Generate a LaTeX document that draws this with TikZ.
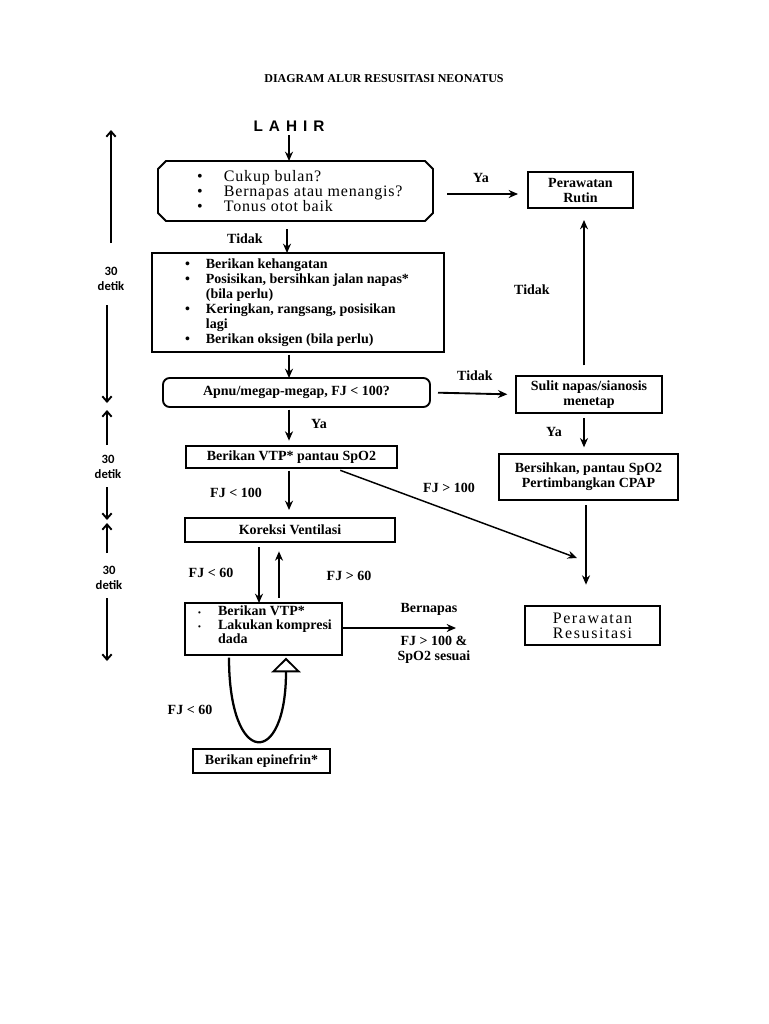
\documentclass[tikz,border=0pt]{standalone}
\usepackage{fontspec}
\setmainfont{Liberation Serif}
\newfontfamily\sansbf{Liberation Sans}
\newfontfamily\calfont{Carlito}
\newfontfamily\spacedA[LetterSpace=5]{Liberation Serif}
\newfontfamily\spacedB[LetterSpace=10]{Liberation Serif}
\usetikzlibrary{arrows.meta}
\begin{document}
\begin{tikzpicture}[x=0.75pt,y=-0.75pt,
  every node/.style={inner sep=0pt, outer sep=0pt},
  txt/.style={font=\fontsize{10.5}{11.25}\selectfont\bfseries},
  box/.style={draw, line width=1.4pt, align=center, txt},
  sz/.style 2 args={minimum width={#1*0.75pt}, minimum height={#2*0.75pt}},
  arr/.style={line width=1.4pt, -{Stealth[length=7pt,width=6pt]}},
  tarr/.style={line width=1.4pt, -{Straight Barb[length=4pt,width=7pt]}},
  det/.style={font=\calfont\fontsize{9.5}{11}\selectfont\bfseries, align=center}]
\useasboundingbox (0,0) rectangle (768,1024);
\fill[white] (0,0) rectangle (768,1024);

% title
\node[font=\fontsize{9}{11}\selectfont\bfseries] (title) at (384,79) {DIAGRAM ALUR RESUSITASI NEONATUS};
\node[font=\sansbf\fontsize{11.5}{13}\selectfont\bfseries] (lahir) at (289,126) {L\hspace{4.5pt}A\hspace{4.5pt}H\hspace{4.5pt}I\hspace{4.5pt}R};

% box 1 (octagon)
\node[sz={275}{60}] (q1) at (295.5,191) {};
\draw[line width=1.4pt] ([xshift=6pt]q1.north west) -- ([xshift=-6pt]q1.north east) -- ([yshift=-6pt]q1.north east) -- ([yshift=6pt]q1.south east) -- ([xshift=-6pt]q1.south east) -- ([xshift=6pt]q1.south west) -- ([yshift=6pt]q1.south west) -- ([yshift=-6pt]q1.north west) -- cycle;
\node[anchor=west, font=\spacedA\fontsize{12}{10.5}\selectfont] (q1t) at (197,193) {\begin{tabular}{@{}l@{\hspace{16pt}}l@{}}\textbullet & Cukup bulan?\\ \textbullet & Bernapas atau menangis?\\ \textbullet & Tonus otot baik\end{tabular}};

\node[box, sz={105}{36}] (rutin) at (580.5,190) {Perawatan\\Rutin};

% box 2
\node[box, sz={292}{99}] (b2) at (298,302.5) {};
\node[anchor=west, txt] (b2t) at (185,302.5) {\begin{tabular}{@{}l@{\hspace{12pt}}l@{}}\textbullet & Berikan kehangatan\\ \textbullet & Posisikan, bersihkan jalan napas*\\ & (bila perlu)\\ \textbullet & Keringkan, rangsang, posisikan\\ & lagi\\ \textbullet & Berikan oksigen (bila perlu)\end{tabular}};

\node[box, rounded corners=5pt, sz={267}{29}] (q3) at (296.5,392.5) {Apnu/megap-megap, FJ < 100?};
\node[box, sz={146}{37}] (sulit) at (589,394.5) {Sulit napas/sianosis\\menetap};
\node[box, sz={211}{22}] (vtp) at (291.5,457) {Berikan VTP* pantau SpO2};
\node[box, sz={179}{46}] (bersih) at (588.5,477) {Bersihkan, pantau SpO2\\Pertimbangkan CPAP};
\node[box, sz={210}{24}] (kor) at (290,530) {Koreksi Ventilasi};
\node[box, sz={135}{39}, font=\spacedB\fontsize{12}{11.5}\selectfont] (resus) at (592.5,625.5) {Perawatan\\Resusitasi};
\node[box, sz={157}{52}] (vk) at (263.5,629) {};
\node[anchor=west, txt, font=\fontsize{10.5}{10.5}\selectfont\bfseries] (vkt) at (198,627) {\begin{tabular}{@{}l@{\hspace{13pt}}l@{}}{\fontsize{6}{6}\selectfont\textbullet} & Berikan VTP*\\ {\fontsize{6}{6}\selectfont\textbullet} & Lakukan kompresi\\ & dada\end{tabular}};
\node[box, sz={137}{24}] (epi) at (261.5,761) {Berikan epinefrin*};

% labels
\node[txt] (lya1) at (481,178) {Ya};
\node[txt] (ltd1) at (245,239) {Tidak};
\node[txt] (ltd2) at (475,376) {Tidak};
\node[txt] (ltd3) at (532,290) {Tidak};
\node[txt] (lya2) at (319,424) {Ya};
\node[txt] (lya3) at (554,432) {Ya};
\node[txt] (lfj1) at (236,493) {FJ < 100};
\node[txt] (lfj2) at (449,488) {FJ > 100};
\node[txt] (lfj3) at (211,573) {FJ < 60};
\node[txt] (lfj4) at (349,576) {FJ > 60};
\node[txt] (lbn) at (429,609) {Bernapas};
\node[txt, align=center] (lfj5) at (434,650) {FJ > 100 \&\\SpO2 sesuai};
\node[txt] (lfj6) at (190,710) {FJ < 60};

% time labels
\node[det] (d1) at (111,279) {30\\detik};
\node[det] (d2) at (108,467) {30\\detik};
\node[det] (d3) at (109,578) {30\\detik};
\coordinate (a1s) at (111,243); \coordinate (a1e) at (111,130);
\coordinate (a2s) at (107,305); \coordinate (a2e) at (107,403);
\coordinate (a3s) at (107,445); \coordinate (a3e) at (107,410);
\coordinate (a4s) at (107,487); \coordinate (a4e) at (107,520);
\coordinate (a5s) at (107,553); \coordinate (a5e) at (107,523);
\coordinate (a6s) at (107,598); \coordinate (a6e) at (107,661);
\draw[tarr] (a1s) -- (a1e);
\draw[tarr] (a2s) -- (a2e);
\draw[tarr] (a3s) -- (a3e);
\draw[tarr] (a4s) -- (a4e);
\draw[tarr] (a5s) -- (a5e);
\draw[tarr] (a6s) -- (a6e);

% columns
\coordinate (x287) at (287,0); \coordinate (x289) at (289,0);
\coordinate (x584) at (584,0); \coordinate (x586) at (586,0);
\coordinate (x259) at (259,0); \coordinate (x279) at (279,0);
\coordinate (x229) at (229,0); \coordinate (x286) at (286,0);
\coordinate (x334) at (334,0);
\coordinate (y194) at (0,194);
\coordinate (dj) at (577,558);
\coordinate (bn) at (456,628);

% connectors
\draw[arr, shorten <=3pt] (lahir.south) -- (lahir.south |- q1.north);
\draw[arr, shorten <=10.5pt, shorten >=7.5pt] (q1.east |- y194) -- (rutin.west |- y194);
\draw[arr, shorten <=6pt] (x287 |- q1.south) -- (x287 |- b2.north);
\draw[arr, shorten <=2pt] (x289 |- b2.south) -- (x289 |- q3.north);
\draw[arr, shorten <=6pt, shorten >=6.5pt] (q3.east) -- (sulit.west);
\draw[arr, shorten <=8pt, shorten >=9pt] (x584 |- sulit.north) -- (x584 |- rutin.south);
\draw[arr, shorten <=2pt, shorten >=4pt] (x289 |- q3.south) -- (x289 |- vtp.north);
\draw[arr, shorten <=4pt, shorten >=5pt] (x584 |- sulit.south) -- (x584 |- bersih.north);
\draw[arr, shorten <=2pt, shorten >=6pt] (x289 |- vtp.south) -- (x289 |- kor.north);
\draw[arr, line width=1.1pt, shorten <=5pt] (x334 |- vtp.south) -- (dj);
\draw[arr, shorten <=4pt, shorten >=16pt] (x586 |- bersih.south) -- (x586 |- resus.north);
\draw[arr, shorten <=4pt] (x259 |- kor.south) -- (x259 |- vk.north);
\draw[arr, shorten <=4pt, shorten >=7pt] (x279 |- vk.north) -- (x279 |- kor.south);
\draw[arr, line width=1.1pt] (vk.east |- bn) -- (bn);
\draw[line width=1.7pt, shorten <=2pt, -{Triangle[open, length=11pt, width=22pt, line width=1.4pt]}] (x229 |- vk.south) .. controls (229,768) and (286,768) .. ([yshift=-2pt]x286 |- vk.south);
\end{tikzpicture}
\end{document}
